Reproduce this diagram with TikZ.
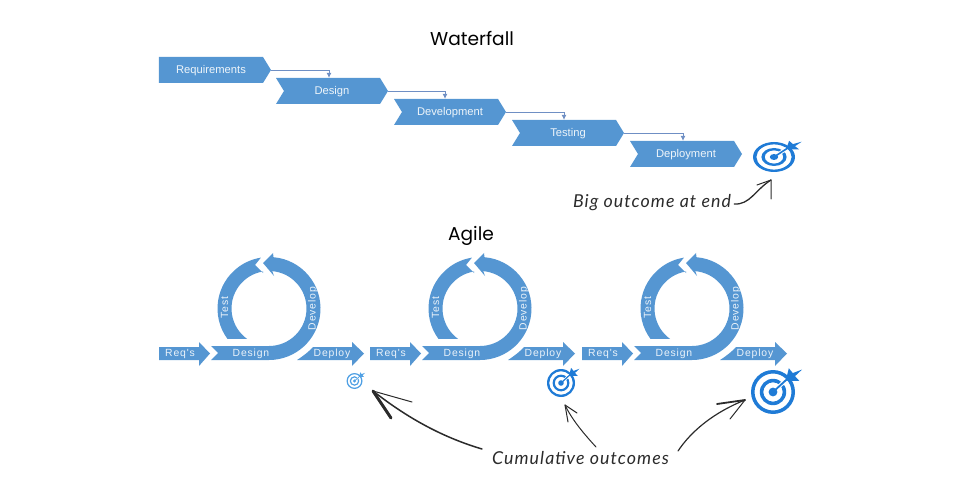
\documentclass[tikz,border=0pt]{standalone}
\usepackage{fontspec}
\setmainfont{Liberation Sans}
\newfontfamily\titlefont{Poppins}
\newfontfamily\handfont[LetterSpace=6]{Lato}
\newfontfamily\bandfont[LetterSpace=8]{Liberation Sans}
\usetikzlibrary{shapes.symbols,arrows.meta}
\definecolor{flowblue}{HTML}{5596D2}
\definecolor{linkblue}{HTML}{6F8FC4}
\definecolor{targetblue}{HTML}{1F7BD6}
\definecolor{targetpale}{HTML}{4FA0E4}
\definecolor{inkgray}{HTML}{2B2B2B}
\tikzset{
  stage/.style={signal,signal to=east,signal from=west,signal pointer angle=117,fill=flowblue,inner sep=0pt,
    minimum width=112pt,minimum height=26pt,text=white!90!flowblue,font=\fontsize{11.2}{13}\selectfont,text height=7.5pt,text depth=0.5pt},
  firststage/.style={stage,signal from=nowhere},
  link/.style={draw=linkblue,line width=0.7pt,-{Latex[length=5pt,width=5pt]}},
  bandlabel/.style={text=white!88!flowblue,font=\bandfont\fontsize{10.4}{12}\selectfont,inner sep=0pt,text height=7.5pt,text depth=2.2pt},
  band/.style={fill=flowblue},
  heading/.style={font=\titlefont\fontsize{18.6}{22}\selectfont,text=black,inner sep=0pt},
  note/.style={font=\handfont\itshape\fontsize{17.8}{20}\selectfont,text=inkgray,inner sep=0pt},
  pen/.style={draw=inkgray,line cap=round,line join=round,line width=#1},
  pen/.default=1pt
}
\newcommand{\targetmark}[5]{%
  \begin{scope}[shift={#1},x=#2pt,y=#3pt]
    \fill[#4,even odd rule] (0,0) ellipse [x radius=1,y radius=1] (0,0) ellipse [x radius=.84,y radius=.84]
      (0,0) ellipse [x radius=.6,y radius=.6] (0,0) ellipse [x radius=.44,y radius=.44];
    \fill[#4] (0,0) ellipse [x radius=.2,y radius=.2];
    \draw[white,line width=#5*2.2pt] (.15,.14) -- (.6,.55);
    \draw[#4,line width=#5pt] (0,0) -- (.72,.66);
    \fill[#4] (.58,.52) -- (.72,1.08) -- (.9,.86) -- (1.32,1.02) -- (1,.72) -- (1.2,.5) -- cycle;
  \end{scope}}
\begin{document}
\begin{tikzpicture}[x=1pt,y=1pt]
\useasboundingbox (0,0) rectangle (955,477);
\begin{scope}[yshift=477pt,y=-1pt]
  \node[heading] (waterfall) at (472,38) {Waterfall};
  \node[heading] (agile) at (471,236) {Agile};
  \node[firststage] (s1) at (211,70) {Requirements};
  \node[stage] (s2) at (332,91) {Design};
  \node[stage] (s3) at (450,112) {Development};
  \node[stage] (s4) at (568,133) {Testing};
  \node[stage] (s5) at (686,154) {Deployment};
  \draw[link] (s1.east) -| ([xshift=-3pt]s2.north);
  \draw[link] (s2.east) -| ([xshift=-5pt]s3.north);
  \draw[link] (s3.east) -| ([xshift=-4pt]s4.north);
  \draw[link] (s4.east) -| ([xshift=-3pt]s5.north);
  \targetmark{(774,157)}{21}{15}{targetblue}{1.6}
  \targetmark{(354.5,381)}{8}{8}{targetpale}{.7}
  \targetmark{(561,383)}{14}{14}{targetblue}{1.2}
  \targetmark{(773,392)}{22}{22}{targetblue}{1.8}
  \node[note] (big) at (652,203) {Big outcome at end};
  \node[note] (cum) at (580.5,458) {Cumulative outcomes};
  % big outcome arrow
  \coordinate (bigtip) at (771,180);
  \draw[pen=1.3pt] (big.east) ++(3,1) .. controls (750,205) and (755,190) .. (bigtip);
  \draw[pen=1pt] (757,185) -- (bigtip) -- (771,199);
  % cumulative arrows
  \coordinate (c1) at (373,391);
  \coordinate (c2) at (565,405);
  \coordinate (c3) at (745,400);
  \draw[pen=1.5pt] (482,449) .. controls (445,438) and (410,420) .. (c1);
  \draw[pen=1pt] (412,402) -- (c1);
  \draw[pen=3pt] (c1) -- (391,418);
  \draw[pen=1pt] (596,447) .. controls (585,435) and (572,420) .. (c2);
  \draw[pen=1pt] (577,413) -- (c2) -- (568,422);
  \draw[pen=1.2pt] (678,451) .. controls (692,430) and (715,412) .. (c3);
  \draw[pen=1.8pt] (717,404) -- (c3);
  \draw[pen=1pt] (c3) -- (730,419);
\end{scope}
\foreach \i/\off in {1/0,2/211,3/423}{
\begin{scope}[shift={(269+\off,168.5)}]
  % Req's
  \fill[band] (-110,-38.5) -- (-70,-38.5) -- (-70,-33.5) -- (-59,-45) -- (-70,-57.5) -- (-70,-51.5) -- (-110,-51.5) -- cycle;
  % Design + Develop
  \fill[band] (-58,-37.5) -- (0,-37.5) arc[start angle=-90,end angle=85,radius=37.5]
     -- (5,32.5) -- (-6,45.5) -- (4,55.5) -- (85:51.5) arc[start angle=85,end angle=-90,radius=51.5]
     -- (-58,-51.5) -- (-51,-44.5) -- cycle;
  % Test
  \fill[band] (216.3:51.5) arc[start angle=216.3,end angle=99,radius=51.5]
     -- (-14,43.5) -- (-6,35.5) -- (99:37.5) arc[start angle=99,end angle=234.4,radius=37.5] -- cycle;
  % Deploy
  \fill[band] (28,-51.5) .. controls (35,-47) and (40,-43) .. (44,-38.5) -- (83,-38.5) -- (83,-33.5) -- (95,-45) -- (83,-57.5) -- (83,-51.5) -- cycle;
  \node[bandlabel] (req\i) at (-89,-45) {Req's};
  \node[bandlabel] (design\i) at (-18,-45) {Design};
  \node[bandlabel] (deploy\i) at (63,-45) {Deploy};
  \node[bandlabel,rotate=90] (test\i) at (-43.5,1) {Test};
  \node[bandlabel,rotate=90] (develop\i) at (44,0) {Develop};
\end{scope}}
\end{tikzpicture}
\end{document}
